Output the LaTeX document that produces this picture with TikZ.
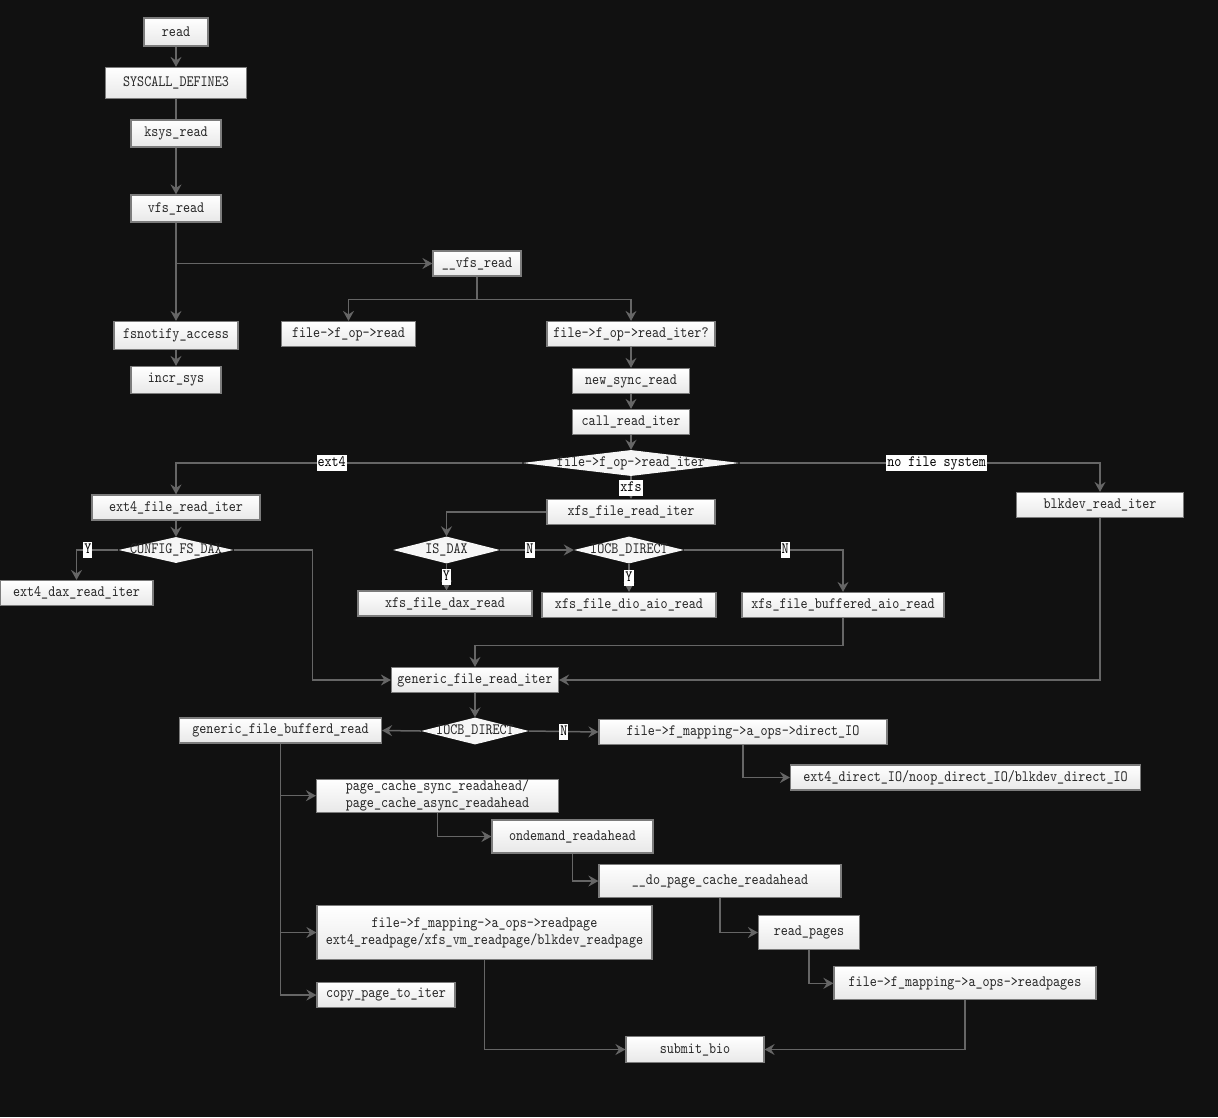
\documentclass[tikz,border=0pt]{standalone}
\usepackage{fontspec}
\usepackage{tikz}
\usetikzlibrary{arrows.meta, shapes.geometric}
\newfontfamily\codefont{lmmono10-regular}[Extension=.otf, FakeStretch=0.85]
\newcommand{\boxfont}{\codefont\fontsize{15.8pt}{17pt}\selectfont}
\definecolor{bgc}{HTML}{111111}
\definecolor{boxline}{HTML}{7C7C7C}
\definecolor{boxbot}{HTML}{E8E8E8}
\definecolor{txt}{HTML}{262626}
\definecolor{wirec}{HTML}{666666}
\definecolor{diafill}{HTML}{F6F6F6}

\begin{document}
\begin{tikzpicture}[x=1pt, y=-1pt,
  box/.style={draw=boxline, line width=1.2pt, top color=white, bottom color=boxbot, text=txt, font=\boxfont, align=center, inner sep=0pt, minimum height=25, minimum width=#1},
  decision/.style 2 args={diamond, draw=none, fill=diafill, inner sep=0pt, minimum width=#1, minimum height=27, label={[text=txt, font=\boxfont]center:#2}},
  lbl/.style={fill=white, text=black, font=\boxfont, inner xsep=1pt, inner ysep=1.5pt, text height=10pt, text depth=3pt},
  wire/.style={draw=wirec, line width=1.5pt},
  arr/.style={wire, -{Stealth[length=10pt, width=11pt, inset=3.5pt]}}]
  \useasboundingbox (0,0) rectangle (1218,1117);
  \fill[bgc] (0,0) rectangle (1218,1117);

  \node[box=64, minimum height=28] (read) at (176,32) {read};
  \node[box=141, minimum height=31] (syscall) at (176,83) {SYSCALL\_DEFINE3};
  \node[box=90, minimum height=27] (ksys) at (176,133.5) {ksys\_read};
  \node[box=90, minimum height=27] (vfsread) at (176,208.5) {vfs\_read};
  \node[box=124, minimum height=28] (fsnotify) at (176,335.5) {fsnotify\_access};
  \node[box=90, minimum height=27] (incr) at (176,380) {incr\_sys};
  \node[box=88] (uvfs) at (477,263.5) {\_\_vfs\_read};
  \node[box=134] (fopread) at (348.5,334) {file->f\_op->read};
  \node[box=168] (fopiter) at (631,334) {file->f\_op->read\_iter?};
  \node[box=117] (newsync) at (631,381) {new\_sync\_read};
  \node[box=117] (calliter) at (631,422) {call\_read\_iter};
  \node[decision={218}{file->f\_op->read\_iter}, minimum height=26] (ftype) at (631,463) {};

  \node[box=168] (ext4iter) at (176,507.5) {ext4\_file\_read\_iter};
  \node[decision={115}{CONFIG\_FS\_DAX}, minimum height=26] (fsdax) at (176,550) {};
  \node[box=153] (ext4dax) at (76.5,593) {ext4\_dax\_read\_iter};
  \node[box=168] (xfsiter) at (631,512) {xfs\_file\_read\_iter};
  \node[decision={107}{IS\_DAX}] (isdax) at (446.5,550) {};
  \node[decision={110}{IOCB\_DIRECT}] (iocb) at (629,550) {};
  \node[box=174] (xfsdax) at (445,603.5) {xfs\_file\_dax\_read};
  \node[box=174] (xfsdio) at (629,605) {xfs\_file\_dio\_aio\_read};
  \node[box=202] (xfsbuf) at (843,605) {xfs\_file\_buffered\_aio\_read};
  \node[box=167] (blkdev) at (1100,505) {blkdev\_read\_iter};

  \node[box=167] (generic) at (475,680) {generic\_file\_read\_iter};
  \node[decision={108}{IOCB\_DIRECT}] (iocbtwo) at (475,731) {};
  \node[box=202] (buffered) at (280.5,730.5) {generic\_file\_bufferd\_read};
  \node[box=288] (directio) at (743,732) {file->f\_mapping->a\_ops->direct\_IO};
  \node[box=350] (directimpl) at (965.5,777.5) {ext4\_direct\_IO/noop\_direct\_IO/blkdev\_direct\_IO};
  \node[box=242, minimum height=33] (pcra) at (437.5,795.7) {page\_cache\_sync\_readahead/\\page\_cache\_async\_readahead};
  \node[box=161, minimum height=33] (ondemand) at (572.5,836.5) {ondemand\_readahead};
  \node[box=242, minimum height=33] (dopcra) at (720,881) {\_\_do\_page\_cache\_readahead};
  \node[box=335, minimum height=54] (readpage) at (484.5,932.5) {file->f\_mapping->a\_ops->readpage\\ext4\_readpage/xfs\_vm\_readpage/blkdev\_readpage};
  \node[box=101, minimum height=34] (readpages) at (809,932.5) {read\_pages};
  \node[box=262, minimum height=33] (readpagesops) at (965,983.3) {file->f\_mapping->a\_ops->readpages};
  \node[box=138] (copyiter) at (386,995) {copy\_page\_to\_iter};
  \node[box=138, minimum height=26] (submit) at (695,1049.5) {submit\_bio};

  \draw[arr] (read) -- (syscall);
  \draw[wire] (syscall) -- (ksys);
  \draw[arr] (ksys) -- (vfsread);
  \draw[arr] (vfsread) -- (fsnotify);
  \draw[arr] (vfsread.south |- uvfs.west) -- (uvfs.west);
  \draw[arr] (fsnotify) -- (incr);
  \draw[arr] (uvfs.south) -- ++(0,23) -| (fopread.north);
  \draw[arr] (uvfs.south) -- ++(0,23) -| (fopiter.north);
  \draw[arr] (fopiter) -- (newsync);
  \draw[arr] (newsync) -- (calliter);
  \draw[arr] (calliter) -- (ftype);
  \draw[arr] (ftype.west) -| node[lbl, pos=0.275] (lext) {ext4} (ext4iter.north);
  \draw[arr] (ftype.south) -- node[lbl] (lxfs) {xfs} (ftype.south |- xfsiter.north);
  \draw[arr] (ftype.east) -| node[lbl, pos=0.273] (lnofs) {no file system} (blkdev.north);

  \draw[arr] (ext4iter) -- (fsdax);
  \draw[arr] (fsdax.west) -| node[lbl, pos=0.363] (ldaxy) {Y} (ext4dax.north);
  \draw[arr] (fsdax.east) -- ++(79,0) |- (generic.west);
  \draw[arr] (xfsiter.west) -| (isdax.north);
  \draw[arr] (isdax.south) -- node[lbl] (lisy) {Y} (isdax.south |- xfsdax.north);
  \draw[arr] (isdax.east) -- node[lbl, pos=0.405] (lisn) {N} (iocb.west);
  \draw[arr] (iocb.south) -- node[lbl] (liocby) {Y} (iocb.south |- xfsdio.north);
  \draw[arr] (iocb.east) -| node[lbl, pos=0.318] (liocbn) {N} (xfsbuf.north);
  \draw[arr] (xfsbuf.south) -- ++(0,27.5) -| (generic.north);
  \draw[arr] (blkdev.south) |- (generic.east);

  \draw[arr] (generic) -- (iocbtwo);
  \draw[arr] (iocbtwo.west) -- (buffered.east);
  \draw[arr] (iocbtwo.east) -- node[lbl] (ldirn) {N} (directio.west);
  \draw[arr] (directio.south) |- (directimpl.west);
  \draw[arr] (buffered.south) |- (pcra.west);
  \draw[arr] (buffered.south) |- (readpage.west);
  \draw[arr] (buffered.south) |- (copyiter.west);
  \draw[arr] (pcra.south) |- (ondemand.west);
  \draw[arr] (ondemand.south) |- (dopcra.west);
  \draw[arr] (dopcra.south) |- (readpages.west);
  \draw[arr] (readpages.south) |- (readpagesops.west);
  \draw[arr] (readpagesops.south) |- (submit.east);
  \draw[arr] (readpage.south) |- (submit.west);
\end{tikzpicture}
\end{document}
